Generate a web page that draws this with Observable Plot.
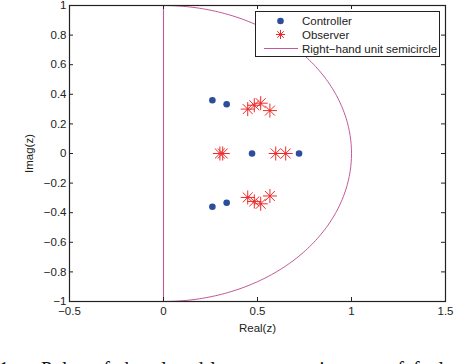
<!DOCTYPE html>
<html>
<head>
<meta charset="utf-8">
<script src="https://cdn.jsdelivr.net/npm/d3@7"></script>
<script src="https://cdn.jsdelivr.net/npm/@observablehq/plot@0.6"></script>
<style>
  html, body { margin: 0; padding: 0; background: #fff; overflow: hidden; width: 474px; height: 364px; }
  #wrap { position: relative; width: 474px; height: 364px; overflow: hidden; }
  #legend { position: absolute; left: 255px; top: 11px; width: 185px; height: 46px; background: #fff; border: 1px solid #222; box-sizing: border-box; }
  #legend svg { position: absolute; left: 0; top: 0; }
  #caption { position: absolute; left: -1px; top: 359px; font-family: "Liberation Serif", "Times New Roman", serif; font-size: 20px; line-height: 20px; color: #111; white-space: nowrap; word-spacing: 4px; }
</style>
</head>
<body>
<div id="wrap">
  <div id="chart"></div>
  <div id="legend"></div>
  <div id="caption">1.&nbsp;&nbsp; Poles of the closed-loop system in case of fault</div>
</div>
<script>
// Controller poles (real, imag)
const controllerRe = [0.26, 0.336, 0.26, 0.336, 0.471, 0.721];
const controllerIm = [0.36, 0.333, -0.36, -0.333, 0, 0];
// Observer poles (real, imag)
const observerRe = [0.448, 0.483, 0.517, 0.566, 0.448, 0.483, 0.517, 0.566, 0.30, 0.315, 0.597, 0.65];
const observerIm = [0.30, 0.326, 0.34, 0.29, -0.297, -0.324, -0.34, -0.287, 0, 0, 0, 0];
const xTicks = [-0.5, 0, 0.5, 1, 1.5];
const yTicks = [-1, -0.8, -0.6, -0.4, -0.2, 0, 0.2, 0.4, 0.6, 0.8, 1];
const legendLabels = ["Controller", "Observer", "Right\u2212hand unit semicircle"];

const blue = "#2b4d9c", red = "#ee2b2b", magenta = "#c0589a";

const controller = controllerRe.map((re, i) => ({re, im: controllerIm[i]}));
const observer = observerRe.map((re, i) => ({re, im: observerIm[i]}));
// unit semicircle (right half) closed by the imaginary axis
const semicircle = d3.range(0, 181).map(k => {
  const t = Math.PI / 2 - k * Math.PI / 180;
  return {re: Math.cos(t), im: Math.sin(t)};
});

const fmt = v => (v < 0 ? "\u2212" : "") + String(Math.abs(v));
const tickLenY = 4 / 148, tickLenX = 4 / 188;

const chart = Plot.plot({
  width: 474,
  height: 335,
  marginLeft: 69,
  marginRight: 29,
  marginTop: 5,
  marginBottom: 34,
  style: {fontFamily: "'Liberation Sans', Arial, sans-serif", fontSize: "11.5px", color: "#222", background: "#fff"},
  x: {domain: [-0.5, 1.5]},
  y: {domain: [-1, 1]},
  marks: [
    Plot.ruleX([0], {y1: -1, y2: 1, stroke: magenta, strokeWidth: 1.1}),
    Plot.line(semicircle, {x: "re", y: "im", stroke: magenta, strokeWidth: 1}),
    // inward ticks, all four sides
    Plot.ruleX(xTicks, {y1: -1, y2: -1 + tickLenY, stroke: "#222"}),
    Plot.ruleX(xTicks, {y1: 1, y2: 1 - tickLenY, stroke: "#222"}),
    Plot.ruleY(yTicks, {x1: -0.5, x2: -0.5 + tickLenX, stroke: "#222"}),
    Plot.ruleY(yTicks, {x1: 1.5, x2: 1.5 - tickLenX, stroke: "#222"}),
    Plot.frame({stroke: "#222", strokeWidth: 1.2}),
    Plot.axisX(xTicks, {tickSize: 0, tickPadding: 5, tickFormat: fmt, label: "Real(z)", labelAnchor: "center", labelArrow: "none", labelOffset: 30, fill: "#222"}),
    Plot.axisY(yTicks, {tickSize: 0, tickPadding: 3, tickFormat: fmt, label: "Imag(z)", labelAnchor: "center", labelArrow: "none", labelOffset: 45, fill: "#222"}),
    Plot.dot(controller, {x: "re", y: "im", r: 3.3, fill: blue, stroke: "none"}),
    Plot.dot(observer, {x: "re", y: "im", symbol: "plus", r: 4.6, stroke: red, strokeWidth: 1}),
    Plot.dot(observer, {x: "re", y: "im", symbol: "times", r: 4.6, stroke: red, strokeWidth: 1}),
    Plot.dot(observer, {x: "re", y: "im", r: 1.1, fill: red, stroke: "none"})
  ]
});
document.getElementById("chart").appendChild(chart);

// legend
const ns = "http://www.w3.org/2000/svg";
const lg = document.getElementById("legend");
const svg = document.createElementNS(ns, "svg");
svg.setAttribute("width", 185); svg.setAttribute("height", 46);
const rowsY = [9, 22.5, 36.5];
legendLabels.forEach((lab, i) => {
  const t = document.createElementNS(ns, "text");
  t.setAttribute("x", 46); t.setAttribute("y", rowsY[i]); t.setAttribute("dy", "0.36em");
  t.setAttribute("fill", "#222");
  t.setAttribute("font-family", "'Liberation Sans', Arial, sans-serif");
  t.setAttribute("font-size", "11.5");
  t.textContent = lab;
  svg.appendChild(t);
});
const c = document.createElementNS(ns, "circle");
c.setAttribute("cx", 24.5); c.setAttribute("cy", rowsY[0]); c.setAttribute("r", 3.3); c.setAttribute("fill", blue);
svg.appendChild(c);
const sx = 24.5, sy = rowsY[1], s = 4.6;
[[-s,0,s,0],[0,-s,0,s],[-s*0.72,-s*0.72,s*0.72,s*0.72],[-s*0.72,s*0.72,s*0.72,-s*0.72]].forEach(([a,b,cc,d]) => {
  const l = document.createElementNS(ns, "line");
  l.setAttribute("x1", sx+a); l.setAttribute("y1", sy+b); l.setAttribute("x2", sx+cc); l.setAttribute("y2", sy+d);
  l.setAttribute("stroke", red); l.setAttribute("stroke-width", 1);
  svg.appendChild(l);
});
const ln = document.createElementNS(ns, "line");
ln.setAttribute("x1", 8); ln.setAttribute("x2", 42); ln.setAttribute("y1", rowsY[2]); ln.setAttribute("y2", rowsY[2]);
ln.setAttribute("stroke", magenta); ln.setAttribute("stroke-width", 1);
svg.appendChild(ln);
lg.appendChild(svg);
</script>
</body>
</html>
